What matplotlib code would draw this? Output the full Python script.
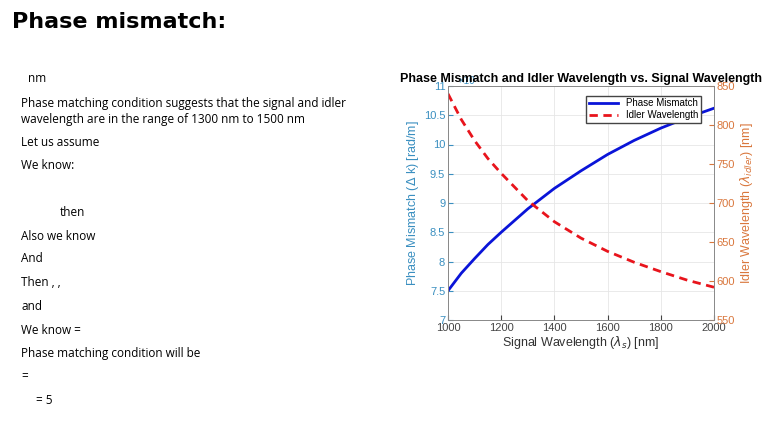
import matplotlib
matplotlib.use("Agg")
import matplotlib.pyplot as plt
from matplotlib.ticker import FuncFormatter

signal = [1000, 1050, 1100, 1150, 1200, 1300, 1400, 1500, 1600, 1700, 1800, 1900, 2000]
mismatch = [7.5, 7.8, 8.05, 8.29, 8.5, 8.9, 9.25, 9.55, 9.83, 10.07, 10.28, 10.46, 10.62]
idler = [840, 807, 780, 757, 738, 703, 676, 655, 638, 624, 612, 601, 592]

fig = plt.figure(figsize=(7.68, 4.33), dpi=100)
fig.text(12/768, 1-22/433, "Phase mismatch:", fontsize=16, fontweight="bold", va="center", family="DejaVu Sans")
lines = [(25, 79, " nm"), (21, 103, "Phase matching condition suggests that the signal and idler"),
         (21, 119, "wavelength are in the range of 1300 nm to 1500 nm"),
         (21, 142, "Let us assume"), (21, 165, "We know:"), (60, 212, "then"),
         (21, 236, "Also we know"), (21, 259, "And"), (21, 283, "Then , ,"),
         (21, 307, "and"), (21, 330, "We know ="), (21, 354, "Phase matching condition will be"),
         (21, 377, "="), (36, 401, "= 5")]
for x, y, t in lines:
    fig.text(x/768, 1-y/433, t, fontsize=8.5, va="center", family="Open Sans")

F = "Liberation Sans"
ax = fig.add_axes([448/768, 1-320/433, 266/768, 234/433])
bl = "#3a8fc0"; orc = "#d9773d"
ax.plot(signal, mismatch, color="#0a14d8", lw=2, label="Phase Mismatch")
ax.set_xlim(1000, 2000); ax.set_ylim(7, 11)
ax.set_xticks(range(1000, 2001, 200))
ax.yaxis.set_major_formatter(FuncFormatter(lambda v, p: f"{v:g}"))
ax.grid(True, color="#e6e6e6", lw=0.6)
ax.tick_params(axis="y", colors=bl, labelsize=8, direction="in", pad=2)
ax.tick_params(axis="x", labelsize=8, colors="#444444", direction="in", pad=2)
for t in ax.get_xticklabels() + ax.get_yticklabels():
    t.set_family(F)
ax.set_ylabel("Phase Mismatch ($\\Delta$ k) [rad/m]", color=bl, fontsize=9, family=F, labelpad=2)
ax.set_xlabel("Signal Wavelength ($\\lambda_s$) [nm]", color="#333333", fontsize=9, labelpad=1, family=F)
ax2 = ax.twinx()
ax2.plot(signal, idler, color="#e8141c", lw=2, ls=(0, (3, 2)), label="Idler Wavelength")
ax2.set_ylim(550, 850)
ax2.tick_params(axis="y", colors=orc, labelsize=8, direction="in", pad=2)
for t in ax2.get_yticklabels():
    t.set_family(F)
ax2.set_ylabel("Idler Wavelength ($\\lambda_{idler}$) [nm]", color=orc, fontsize=9, family=F, labelpad=2)
for a in (ax, ax2):
    for s in a.spines.values():
        s.set_color("#888888"); s.set_linewidth(0.6)
h1, l1 = ax.get_legend_handles_labels(); h2, l2 = ax2.get_legend_handles_labels()
ax.legend(h1+h2, l1+l2, loc="upper right", bbox_to_anchor=(0.97, 0.98), prop={"family": F, "size": 7},
          fancybox=False, edgecolor="#444444", framealpha=1, borderpad=0.3, handlelength=3, labelspacing=0.2)
ax.set_title("Phase Mismatch and Idler Wavelength vs. Signal Wavelength", fontsize=9, fontweight="bold",
             pad=3, family=F)
ax.text(0.04, 1.0, "×10", transform=ax.transAxes, fontsize=7, color=bl, va="bottom", family=F)
fig.savefig("out.png", dpi=100)
